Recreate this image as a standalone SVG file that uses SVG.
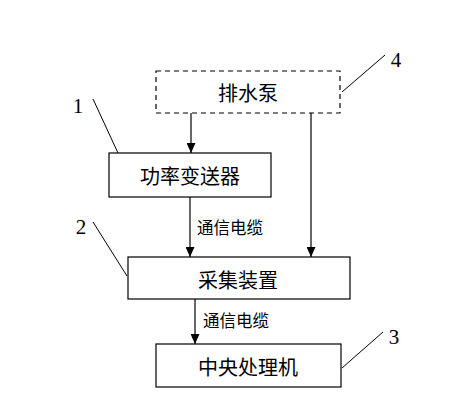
<svg xmlns="http://www.w3.org/2000/svg" width="474" height="405" viewBox="0 0 474 405">
<style>
.box{fill:#fff;stroke:#000;stroke-width:1.2}
.dash{fill:#fff;stroke:#000;stroke-width:1.2;stroke-dasharray:5,4}
.t{font-family:"Noto Sans CJK SC","Noto Sans CJK JP",sans-serif;font-size:20px;text-anchor:middle;dominant-baseline:central;fill:#000}
.s{font-family:"Noto Sans CJK SC","Noto Sans CJK JP",sans-serif;font-size:16.5px;dominant-baseline:central;fill:#000}
.n{font-family:"Liberation Serif",serif;font-size:21px;text-anchor:middle;dominant-baseline:central;fill:#000}
.ln{stroke:#000;stroke-width:1.2;fill:none}
.ld{stroke:#000;stroke-width:1;fill:none}
</style>
<defs>
<marker id="ah" viewBox="0 0 10 10" refX="10" refY="5" markerWidth="10" markerHeight="9" markerUnits="userSpaceOnUse" orient="auto" preserveAspectRatio="none">
<path d="M0,0 L10,5 L0,10 Z" fill="#000"/>
</marker>
</defs>
<rect width="474" height="405" fill="#fff"/>
<g id="connectors">
<line class="ln" x1="191" y1="113" x2="191" y2="153" marker-end="url(#ah)"/>
<line class="ln" x1="190" y1="197" x2="190" y2="257" marker-end="url(#ah)"/>
<line class="ln" x1="311" y1="113" x2="311" y2="257" marker-end="url(#ah)"/>
<line class="ln" x1="195" y1="299" x2="195" y2="344" marker-end="url(#ah)"/>
<text class="s" x="197" y="227">通信电缆</text>
<text class="s" x="203" y="320">通信电缆</text>
</g>
<g id="pump">
<rect class="dash" x="156" y="71" width="184" height="42"/>
<text class="t" x="248" y="92">排水泵</text>
</g>
<g id="transmitter">
<rect class="box" x="109" y="153" width="162" height="44"/>
<text class="t" x="190" y="175">功率变送器</text>
</g>
<g id="collector">
<rect class="box" x="128" y="257" width="222" height="42"/>
<text class="t" x="238" y="279">采集装置</text>
</g>
<g id="cpu">
<rect class="box" x="156" y="344" width="185" height="43"/>
<text class="t" x="248" y="366">中央处理机</text>
</g>
<g id="labels">
<line class="ld" x1="93" y1="99" x2="118" y2="153"/>
<text class="n" x="78" y="106">1</text>
<line class="ld" x1="93" y1="222" x2="127" y2="276"/>
<text class="n" x="81" y="227">2</text>
<line class="ld" x1="342" y1="368" x2="383" y2="332"/>
<text class="n" x="394" y="337">3</text>
<line class="ld" x1="342" y1="92" x2="385" y2="55"/>
<text class="n" x="396" y="60">4</text>
</g>
</svg>
